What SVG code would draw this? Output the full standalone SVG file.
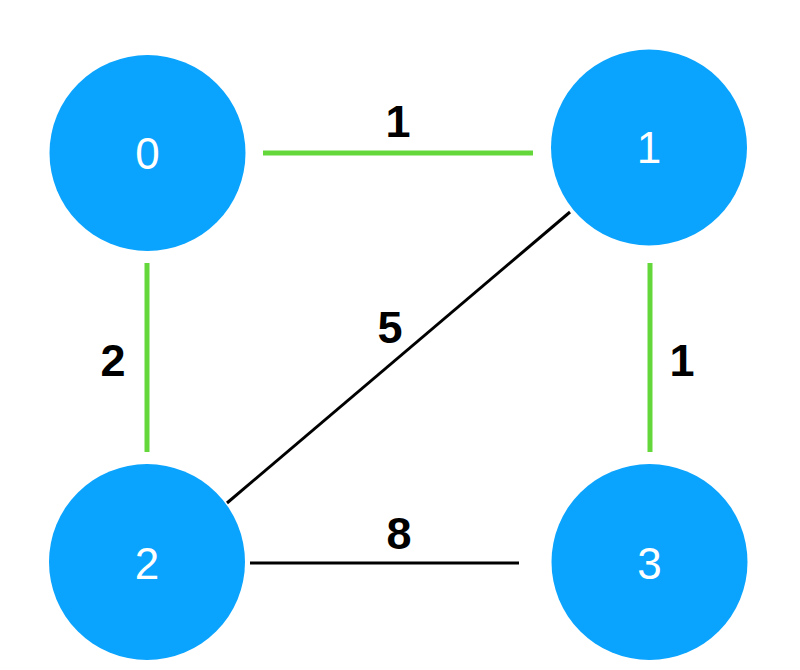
<svg xmlns="http://www.w3.org/2000/svg" width="800" height="670" viewBox="0 0 800 670">
<style>
.node{fill:#0AA3FE}
.nl{fill:#ffffff;font-family:"Liberation Sans",Arial,sans-serif;font-size:44px;text-anchor:middle}
.mst{stroke:#64D83A;stroke-width:5;fill:none}
.e{stroke:#000000;stroke-width:3;fill:none}
.w{fill:#000000;font-family:"Liberation Sans",Arial,sans-serif;font-size:45px;font-weight:bold;text-anchor:middle}
</style>
<rect width="800" height="670" fill="#ffffff"/>
<g id="edges">
<line class="mst" x1="263" y1="153" x2="533" y2="153"/>
<line class="mst" x1="147" y1="263" x2="147" y2="452"/>
<line class="mst" x1="650" y1="263" x2="650" y2="452"/>
<line class="e" x1="570" y1="212" x2="227" y2="503"/>
<line class="e" x1="250" y1="563" x2="519" y2="563"/>
<text class="w" x="398" y="137">1</text>
<text class="w" x="113" y="376">2</text>
<text class="w" x="390" y="343">5</text>
<text class="w" x="682" y="376">1</text>
<text class="w" x="399" y="549">8</text>
</g>
<g id="node0"><circle class="node" cx="147.5" cy="153" r="98"/><text class="nl" x="147.5" y="169">0</text></g>
<g id="node1"><circle class="node" cx="649" cy="147.5" r="98"/><text class="nl" x="649" y="163">1</text></g>
<g id="node2"><circle class="node" cx="147" cy="562" r="98"/><text class="nl" x="147" y="579">2</text></g>
<g id="node3"><circle class="node" cx="649.5" cy="562" r="98"/><text class="nl" x="649.5" y="579">3</text></g>
</svg>
